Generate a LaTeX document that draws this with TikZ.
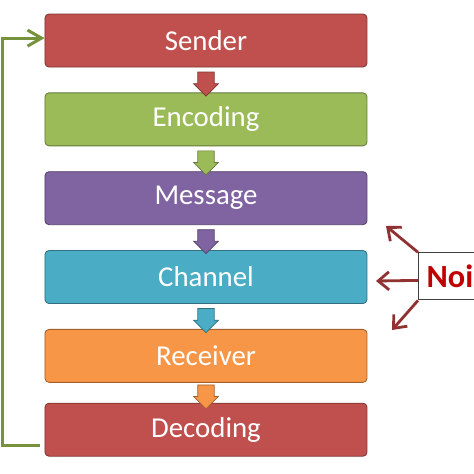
\documentclass[tikz,border=0pt]{standalone}
\usepackage{fontspec}
\setmainfont{Carlito}
\usetikzlibrary{positioning,arrows.meta,shapes.arrows,calc}

\definecolor{senderred}{RGB}{192,80,77}
\definecolor{encgreen}{RGB}{155,187,89}
\definecolor{msgpurple}{RGB}{128,100,162}
\definecolor{chanblue}{RGB}{75,172,198}
\definecolor{recvorange}{RGB}{247,150,70}
\definecolor{feedgreen}{RGB}{118,146,60}
\definecolor{noisedark}{RGB}{145,50,50}
\definecolor{noisetext}{RGB}{192,0,0}

\tikzset{
	stage/.style={rectangle, rounded corners=0.1cm, draw=#1!65!black, line width=0.6pt, fill=#1, text=white,
		minimum width=8.05cm, minimum height=1.325cm, inner sep=0pt, font=\fontsize{20.5}{24}\selectfont},
	flow/.style={single arrow, shape border rotate=270, draw=#1!65!black, line width=0.5pt, fill=#1,
		inner sep=0.15cm, minimum height=0.6cm, minimum width=0.62cm, single arrow head extend=0.08cm},
	noisearrow/.style={draw=noisedark, line width=2pt, -{Straight Barb[length=0.27cm,width=0.45cm]}},
	feedback/.style={draw=feedgreen, line width=0.075cm, -{Straight Barb[length=0.35cm,width=0.4cm]}},
}

\begin{document}
\begin{tikzpicture}
	\path[clip, use as bounding box] (0,0) rectangle (11.85,-11.85);
	\fill[white] (0,0) rectangle (11.85,-11.85);
	
	% the stages of the process
	\node (sender) [stage=senderred] at (5.15,-1.0125) {Sender};
	\node (encoding) [stage=encgreen, below=0.625cm of sender] {Encoding};
	\node (message) [stage=msgpurple, below=0.625cm of encoding] {Message};
	\node (channel) [stage=chanblue, below=0.625cm of message] {Channel};
	\node (receiver) [stage=recvorange, below=0.625cm of channel] {Receiver};
	\node (decoding) [stage=senderred, below=0.5cm of receiver] {Decoding};
	
	% block arrows between the stages
	\node (flowa) [flow=senderred] at ($(sender.south)!0.5!(encoding.north)$) {};
	\node (flowb) [flow=encgreen] at ($(encoding.south)!0.5!(message.north)$) {};
	\node (flowc) [flow=msgpurple] at ($(message.south)!0.5!(channel.north)$) {};
	\node (flowd) [flow=chanblue] at ($(channel.south)!0.5!(receiver.north)$) {};
	\node (flowe) [flow=recvorange] at ($(receiver.south)!0.5!(decoding.north)$) {};
	
	% noise acting on the channel
	\node (noise) [rectangle, draw=black!75, line width=0.8pt, fill=white, text=noisetext,
		font=\bfseries\fontsize{23}{27}\selectfont, minimum height=1.175cm, inner xsep=0.2cm, anchor=west] at (10.45,-6.91) {Noise};
	\coordinate (noiseup) at (9.65,-5.65);
	\coordinate (noiseleft) at (9.4,-7.025);
	\coordinate (noisedown) at (9.8,-8.25);
	\draw[noisearrow] (noise.north west) -- (noiseup);
	\draw[noisearrow] ([yshift=-0.1cm]noise.west) -- (noiseleft);
	\draw[noisearrow] (noise.south west) -- (noisedown);
	
	% feedback from decoding back to sender
	\draw[feedback] ([xshift=-0.12cm,yshift=-0.39cm]decoding.west) -- ++(-0.93,0) |- ([yshift=0.06cm]sender.west);
\end{tikzpicture}
\end{document}
